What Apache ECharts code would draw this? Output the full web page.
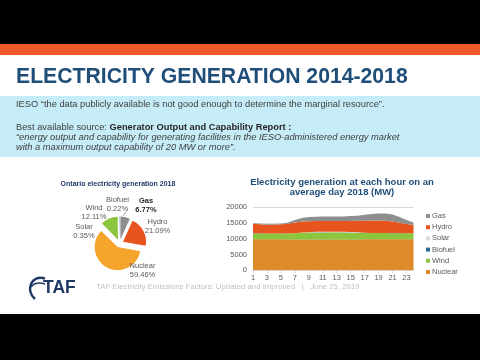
<!DOCTYPE html>
<html><head><meta charset="utf-8">
<script src="https://cdn.jsdelivr.net/npm/echarts@6/dist/echarts.min.js"></script>
<style>html,body{margin:0;padding:0;background:#fff}#c{width:480px;height:360px}</style>
</head><body><div id="c"></div>
<script>
// ---- data ----
const hours = ['1','2','3','4','5','6','7','8','9','10','11','12','13','14','15','16','17','18','19','20','21','22','23','24'];
const nuclear = [9850,9850,9840,9830,9820,9810,9800,9790,9780,9780,9780,9790,9790,9800,9800,9810,9820,9830,9840,9850,9850,9860,9860,9860];
const wind    = [1850,1850,1830,1820,1800,1850,1950,2100,2200,2250,2250,2250,2250,2200,2150,2100,2050,2000,2000,1980,1950,1920,1900,1880];
const biofuel = [40,40,40,40,40,40,40,40,40,40,40,40,40,40,40,40,40,40,40,40,40,40,40,40];
const solar   = [0,0,0,0,0,0,5,40,90,140,170,180,180,170,140,100,50,10,0,0,0,0,0,0];
const hydro   = [3060,2860,2790,2810,2940,3100,3405,3530,3490,3440,3410,3390,3390,3440,3520,3650,3790,3920,3920,3880,3660,3280,2900,2620];
const gas     = [100,200,200,200,200,400,800,1100,1300,1350,1450,1450,1450,1450,1550,1600,1850,2100,2200,2250,2200,1800,1300,800];
const yTicks  = [0,5000,10000,15000,20000];
const pieNames  = ['Gas','Hydro','Nuclear','Solar','Wind','Biofuel'];
const pieShares = [6.77,21.09,59.46,0.35,12.11,0.22];

const colors = {Nuclear:'#DE8A2A', Wind:'#8CC63F', Biofuel:'#2A6E96', Solar:'#D6DCE4', Hydro:'#E8541E', Gas:'#8E8E8E'};
const pieColors = {Gas:'#8E8E8E', Hydro:'#E8541E', Nuclear:'#F5A42C', Solar:'#D6DCE4', Wind:'#8CC63F', Biofuel:'#2A6E96'};
const font = 'Liberation Sans, Arial, sans-serif';
// label anchor points for the pie labels (layout only)
const pieLabelPos = {Biofuel:[117.5,204], Gas:[146,205], Hydro:[157.5,226.5], Wind:[94,212], Solar:[84,231], Nuclear:[142.5,270.5]};

const chart = echarts.init(document.getElementById('c'), null, {renderer:'canvas'});
const stackSeries = [['Nuclear',nuclear],['Wind',wind],['Biofuel',biofuel],['Solar',solar],['Hydro',hydro],['Gas',gas]].map(([n,d])=>({
  name:n, type:'line', stack:'total', data:d, symbol:'none', smooth:false,
  lineStyle:{width:0}, areaStyle:{color:colors[n], opacity:1}, itemStyle:{color:colors[n]}, z:2
}));

const pieLabelTexts = pieNames.map((n,i)=>({
  type:'text', x:pieLabelPos[n][0], y:pieLabelPos[n][1], z:10,
  style:{text:n+'\n'+pieShares[i].toFixed(2)+'%', align:'center', verticalAlign:'middle',
    font:(n==='Gas'?'bold ':'')+'7.5px '+font, fill:(n==='Gas'?'#262626':'#595959'), lineHeight:9}
}));

const option = {
  backgroundColor:'#ffffff',
  animation:false,
  textStyle:{fontFamily:font},
  graphic:[
    {type:'rect', shape:{x:0,y:0,width:480,height:44}, style:{fill:'#000'}, silent:true},
    {type:'rect', shape:{x:0,y:44,width:480,height:11}, style:{fill:'#F05A28'}, silent:true},
    {type:'rect', shape:{x:0,y:96,width:480,height:61}, style:{fill:'#C6ECF8'}, silent:true},
    {type:'rect', shape:{x:0,y:314,width:480,height:46}, style:{fill:'#000'}, silent:true},
    {type:'text', left:16, top:67, style:{text:'ELECTRICITY GENERATION 2014-2018', font:'bold 21.2px '+font, fill:'#1F4E79'}},
    {type:'text', left:16, top:99.5, style:{text:'IESO \u201cthe data publicly available is not good enough to determine the marginal resource\u201d.', font:'9.3px '+font, fill:'#404040'}},
    {type:'text', left:16, top:122.5, style:{text:'{a|Best available source: }{b|Generator Output and Capability Report :}', rich:{a:{font:'9.3px '+font, fill:'#404040'}, b:{font:'bold 9.3px '+font, fill:'#262626'}}}},
    {type:'text', left:16, top:132.5, style:{text:'\u201cenergy output and capability for generating facilities in the IESO-administered energy market\nwith a maximum output capability of 20 MW or more\u201d.', font:'italic 9.3px '+font, fill:'#404040', lineHeight:10}},
    {type:'text', left:96, top:283, style:{text:'TAF Electricity Emissions Factors: Updated and Improved   |   June 25, 2019', font:'7.8px '+font, fill:'#BFBFBF'}},
    {type:'text', left:43, top:279, style:{text:'TAF', font:'bold 17.5px '+font, fill:'#1F3864'}},
    {type:'bezierCurve', shape:{x1:45,y1:278.5,cpx1:31,cpy1:274,cpx2:25,cpy2:291,x2:35,y2:299}, style:{stroke:'#1F3864', lineWidth:2.4, fill:null}},
    {type:'bezierCurve', shape:{x1:31,y1:287,cpx1:34,cpy1:283,cpx2:39,cpy2:282,x2:45,y2:284}, style:{stroke:'#1F3864', lineWidth:1.6, fill:null}},
    {type:'line', shape:{x1:123,y1:216,x2:127.5,y2:209.5}, style:{stroke:'#8E8E8E', lineWidth:0.7}, z:10},
    ...pieLabelTexts
  ],
  title:[
    {text:'Ontario electricity generation 2018', left:113, top:176, textAlign:'center',
     textStyle:{fontSize:7, fontWeight:'bold', color:'#1F3864', fontFamily:font}},
    {text:'Electricity generation at each hour on an\naverage day 2018 (MW)', left:337, top:172, textAlign:'center',
     textStyle:{fontSize:9.5, fontWeight:'bold', color:'#1F4E79', lineHeight:10.5, fontFamily:font}}
  ],
  legend:{
    orient:'vertical', left:421, top:207, itemWidth:4, itemHeight:4, itemGap:3.2, icon:'rect', padding:5,
    data:['Gas','Hydro','Solar','Biofuel','Wind','Nuclear'],
    textStyle:{fontSize:7.5, color:'#595959', fontFamily:font, padding:[0,0,0,-3]}
  },
  grid:{left:253, right:66.5, top:207.3, bottom:89.7, containLabel:false},
  xAxis:{type:'category', data:hours, boundaryGap:false,
    axisLine:{show:true, lineStyle:{color:'#D9D9D9'}},
    axisTick:{show:true, lineStyle:{color:'#D9D9D9'}, length:3},
    axisLabel:{interval:1, fontSize:7.5, color:'#595959', margin:4, fontFamily:font}},
  yAxis:{type:'value', min:yTicks[0], max:yTicks[yTicks.length-1], interval:yTicks[1]-yTicks[0],
    axisLabel:{fontSize:7.5, color:'#595959', margin:6, fontFamily:font, formatter:v=>String(v)},
    axisLine:{show:false}, axisTick:{show:false},
    splitLine:{lineStyle:{color:'#D9D9D9', width:1}}},
  series:[
    ...stackSeries,
    {type:'pie', name:'share', center:[119.5,243.5], radius:[0,23], startAngle:90, clockwise:true,
     selectedMode:'multiple', selectedOffset:4, legendHoverLink:false, z:5,
     emphasis:{disabled:true},
     data:pieNames.map((n,i)=>({name:n, value:pieShares[i], selected:true, itemStyle:{color:pieColors[n]}})),
     label:{show:false}, labelLine:{show:false}
    }
  ]
};
chart.setOption(option);
</script></body></html>
